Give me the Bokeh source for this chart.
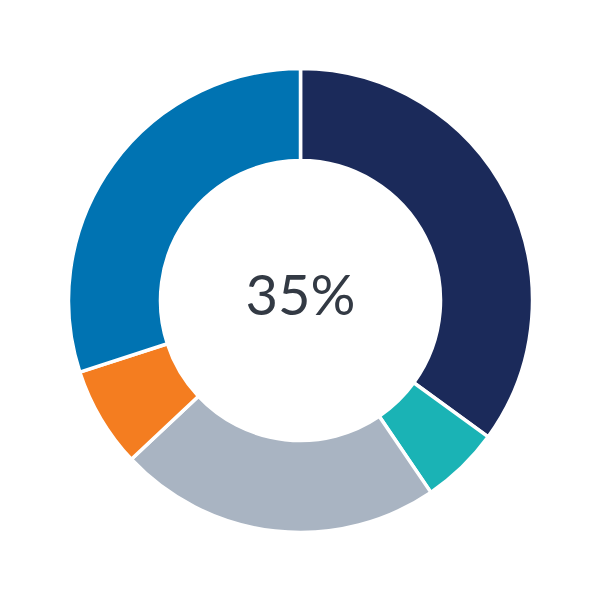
import numpy as np
from bokeh.plotting import figure
from bokeh.models import ColumnDataSource
from bokeh.core.properties import value
from bokeh.embed import file_html
from bokeh.resources import INLINE

categories = ["Navy", "Teal", "Gray", "Orange", "Blue"]
shares = [35, 5.5, 22.5, 7, 30]
colors = ["#1b2a5a", "#1ab3b5", "#a9b4c2", "#f47d20", "#0073b2"]
center_label = "35%"

vals = np.array(shares, dtype=float)
frac = vals / vals.sum()
cum_end = np.cumsum(frac) * 2 * np.pi
cum_start = cum_end - frac * 2 * np.pi
start = np.pi / 2 - cum_end
end = np.pi / 2 - cum_start

src = ColumnDataSource(dict(cat=categories, start=start, end=end, color=colors))

p = figure(width=584, height=584, x_range=(-300, 284), y_range=(-284, 300),
           output_backend="svg", toolbar_location=None, min_border=0)
p.axis.visible = False
p.grid.visible = False
p.outline_line_color = None
p.background_fill_color = "white"
p.border_fill_color = "white"

p.annular_wedge(x=0, y=0, inner_radius=140, outer_radius=232,
                start_angle="start", end_angle="end", color="color",
                line_color="white", line_width=3.5, source=src)

p.text(x=[0], y=[7], text=[center_label], text_font=value("Lato"),
       text_font_size="56px", text_color="#333a44",
       text_align="center", text_baseline="middle")

open("out.html", "w").write(file_html(p, INLINE))
